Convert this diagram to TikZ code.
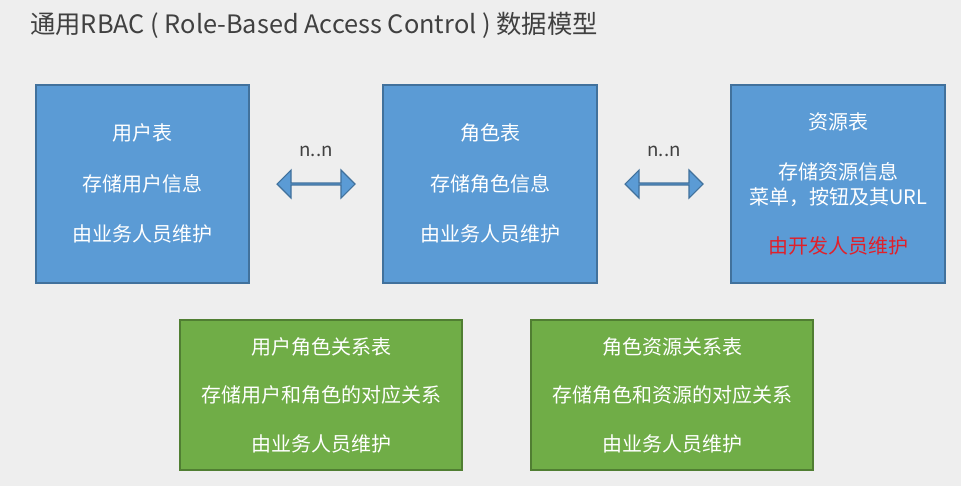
\documentclass[tikz,border=0pt]{standalone}
\usepackage{fontspec}
\setmainfont{Noto Sans CJK SC}
\usetikzlibrary{shapes.arrows}
\definecolor{bg}{HTML}{EEEEEE}
\definecolor{bfill}{HTML}{5B9BD5}
\definecolor{bline}{HTML}{41719C}
\definecolor{gfill}{HTML}{70AD47}
\definecolor{gline}{HTML}{507E32}
\definecolor{ttl}{HTML}{404040}
\definecolor{redt}{HTML}{E0202A}
\begin{document}
\begin{tikzpicture}[x=0.75pt,y=-0.75pt,
  bluebox/.style={draw=bline,fill=bfill,line width=0.8pt},
  greenbox/.style={draw=gline,fill=gfill,line width=0.8pt},
  txt/.style={text=white,font=\fontsize{15}{18}\selectfont,anchor=center,inner sep=0},
  darr/.style={double arrow,draw=bline,fill=bfill,line width=0.8pt,minimum width=28*0.75pt,
    minimum height=78*0.75pt,double arrow head extend=7*0.75pt,inner sep=0,anchor=center},
  lbl/.style={text=ttl,font=\fontsize{14}{16}\selectfont,inner sep=0}]
\fill[bg] (0,0) rectangle (961,486);
\node[anchor=west,text=ttl,font=\fontsize{19}{22}\selectfont,inner sep=0] (title) at (30,25) {通用RBAC ( Role-Based Access Control ) 数据模型};
\draw[bluebox] (36,85) rectangle (249,283);
\draw[bluebox] (383,85) rectangle (597,283);
\draw[bluebox] (731,85) rectangle (945,283);
\draw[greenbox] (180,320) rectangle (462,470);
\draw[greenbox] (531,320) rectangle (813,470);
\node[txt] (u1) at (142,133) {用户表};
\node[txt] (u2) at (142,184) {存储用户信息};
\node[txt] (u3) at (142,234) {由业务人员维护};
\node[txt] (r1) at (490,133) {角色表};
\node[txt] (r2) at (490,184) {存储角色信息};
\node[txt] (r3) at (490,234) {由业务人员维护};
\node[txt] (s1) at (838,122) {资源表};
\node[txt] (s2) at (838,172) {存储资源信息};
\node[txt] (s3) at (838,197) {菜单，按钮及其URL};
\node[txt,text=redt] (s4) at (838,246) {由开发人员维护};
\node[txt] (g1) at (321,347) {用户角色关系表};
\node[txt] (g2) at (321,395) {存储用户和角色的对应关系};
\node[txt] (g3) at (321,444) {由业务人员维护};
\node[txt] (h1) at (672,347) {角色资源关系表};
\node[txt] (h2) at (672,395) {存储角色和资源的对应关系};
\node[txt] (h3) at (672,444) {由业务人员维护};
\node[darr] (a1) at (316,184) {};
\node[darr] (a2) at (664,184) {};
\node[lbl] (n1) at (316,151) {n..n};
\node[lbl] (n2) at (664,151) {n..n};
\end{tikzpicture}
\end{document}
